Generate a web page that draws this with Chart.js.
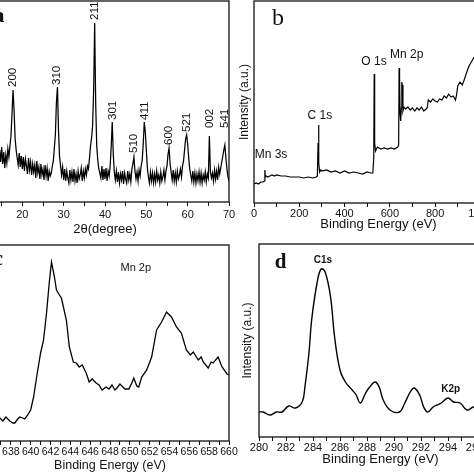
<!DOCTYPE html>
<html>
<head>
<meta charset="utf-8">
<script src="https://cdn.jsdelivr.net/npm/chart.js@4.4.1/dist/chart.umd.min.js"></script>
<style>
html, body { margin: 0; padding: 0; background: #fff; width: 474px; height: 474px; overflow: hidden; position: relative; }
canvas { position: absolute; }
</style>
</head>
<body>
<canvas id="chartA"></canvas>
<canvas id="chartB"></canvas>
<canvas id="chartC"></canvas>
<canvas id="chartD"></canvas>
<script>
// ---- (a) XRD pattern, 0.25 deg steps from 14 deg ----
var xrdStart = 14, xrdStep = 0.25;
var xrdCounts = [
  48, 36, 52, 40,  55, 38, 50, 34,  47, 39, 53, 45,  56, 66, 88, 112,
  92, 64, 52, 44,  37, 49, 35, 46,  33, 45, 31, 43,  36, 28, 44, 32,
  40, 27, 38, 30,  37, 24, 41, 29,  35, 23, 38, 27,  33, 22, 37, 26,
  34, 21, 31, 26,  29, 36, 41, 54,  68, 100, 115, 72,  46, 36, 27, 35,
  22, 33, 21, 31,  24, 19, 32, 22,  30, 20, 33, 21,  28, 19, 31, 23,
  27, 34, 21, 31,  24, 33, 27, 36,  33, 44, 56, 64,  76, 112, 179, 98,
  56, 42, 33, 29,  24, 36, 22, 33,  23, 34, 21, 31,  26, 36, 55, 80,
  48, 30, 22, 31,  20, 30, 19, 28,  22, 31, 18, 29,  23, 19, 31, 22,
  28, 20, 33, 38,  45, 31, 23, 30,  21, 32, 26, 36,  42, 58, 80, 70,
  52, 34, 25, 19,  30, 21, 29, 19,  28, 20, 31, 22,  27, 19, 30, 21,
  25, 32, 22, 31,  36, 48, 54, 38,  30, 22, 32, 21,  29, 20, 31, 23,
  27, 33, 25, 36,  41, 52, 63, 67,  58, 44, 33, 27,  21, 31, 20, 29,
  19, 28, 21, 30,  20, 29, 19, 27,  22, 30, 20, 28,  24, 66, 30, 24,
  29, 21, 32, 23,  31, 22, 35, 28,  34, 40, 46, 52,  57, 44, 33, 25,
  21
];
var xrdPeakNames = ['200', '310', '211', '301', '510', '411', '600', '521', '002', '541'];
var xrdPeakAngles = [17.8, 28.35, 37.55, 41.8, 46.9, 49.55, 55.35, 59.75, 65.3, 69.0];
var xrdLabelFoot = [115, 117, 182, 82, 49, 82, 57, 70, 74, 74];

// ---- (b) XPS survey ----
var surveyEnergy = [0, 10, 20, 30, 40, 46, 48, 50, 55, 60, 70, 80, 90, 100, 120, 140, 160, 180, 200,
  220, 240, 260, 275, 280, 283, 285, 287, 290, 295, 300, 320, 340, 360, 380, 400, 420, 440, 460, 480,
  500, 515, 525, 529, 531, 533, 537, 545, 560, 575, 590, 605, 620, 635, 639, 641, 643, 645, 648, 651,
  653, 655, 658, 662, 670, 680, 690, 700, 710, 720, 730, 740, 750, 760, 765, 770, 780, 790, 800, 810,
  820, 830, 840, 850, 860, 870, 880, 890, 895, 900, 910, 920, 930, 940, 950, 960, 970, 980, 990, 1000];
var surveyCounts = [19, 20, 19, 21, 21, 22, 33, 26, 27, 26, 27, 28, 27, 28, 27, 27, 26, 26, 26,
  25, 26, 25, 26, 27, 60, 78, 40, 31, 33, 32, 33, 31, 32, 30, 32, 30, 31, 30, 29,
  31, 30, 30, 45, 129, 60, 52, 56, 54, 55, 54, 55, 54, 56, 58, 135, 128, 90, 82, 95,
  121, 118, 92, 96, 94, 96, 93, 95, 92, 95, 93, 96, 92, 94, 95, 103, 101, 104, 102, 101,
  104, 103, 107, 105, 109, 106, 107, 103, 108, 117, 121, 118, 124, 131, 137, 141, 145, 148, 150, 152];
var surveyNames = ['Mn 3s', 'C 1s', 'O 1s', 'Mn 2p'];
var surveyNameX = [75, 291, 530, 675];
var surveyNameY = [48, 87, 141, 148];

// ---- (c) Mn 2p ----
var mnEnergy = [636.0, 636.3, 636.6, 636.9, 637.2, 637.5, 637.9, 638.2, 638.4, 638.7, 638.9, 639.2, 639.4,
  639.7, 640.0, 640.3, 640.6, 641.0, 641.3, 641.6, 641.9, 642.1, 642.4, 642.6, 642.9, 643.1, 643.6, 643.9,
  644.3, 644.6, 644.9, 645.2, 645.6, 645.9, 646.2, 646.6, 646.9, 647.2, 647.6, 647.9, 648.2, 648.5, 648.7,
  649.0, 649.2, 649.5, 649.9, 650.2, 650.4, 650.7, 650.9, 651.2, 651.7, 652.2, 652.7, 653.2, 653.7, 654.2,
  654.7, 655.2, 655.7, 656.1, 656.4, 656.9, 657.2, 657.4, 657.9, 658.2, 658.4, 658.9, 659.3, 659.8, 660.0];
var mnCounts = [22, 25, 21, 23, 20, 24, 20, 18, 18, 22, 24, 23, 22,
  26, 31, 44, 64, 88, 101, 128, 161, 179, 164, 151, 146, 143, 121, 94,
  79, 78, 74, 76, 68, 59, 62, 58, 56, 51, 54, 52, 56, 51, 53,
  57, 55, 52, 52, 58, 63, 55, 54, 64, 71, 84, 111, 119, 129, 124,
  114, 108, 91, 86, 89, 81, 84, 79, 73, 79, 78, 84, 74, 67, 66];

// ---- (d) C 1s ----
var cEnergy = [280.0, 280.3, 280.8, 281.3, 281.7, 282.2, 282.7, 283.2, 283.4, 283.7, 283.9, 284.3, 284.6,
  284.9, 285.3, 285.6, 286.0, 286.4, 286.9, 287.2, 287.5, 287.9, 288.2, 288.6, 288.9, 289.2, 289.7, 290.4,
  290.8, 291.2, 291.5, 291.9, 292.2, 292.5, 292.9, 293.2, 293.5, 294.0, 294.4, 294.9, 295.4, 295.9, 296.5, 297.2];
var cCounts = [25, 25, 22, 25, 25, 31, 29, 35, 50, 84, 117, 154, 168,
  165, 140, 100, 67, 55, 47, 42, 34, 44, 50, 55, 50, 37, 27, 25,
  34, 45, 49, 42, 30, 25, 30, 32, 34, 39, 35, 34, 27, 30, 28, 27];

Chart.defaults.font.family = 'Arial, "Liberation Sans", Helvetica, sans-serif';
Chart.defaults.color = '#111';
Chart.defaults.animation = false;

var M = 80;
var serif = '"Liberation Serif", "Times New Roman", serif';

// canvas is sized so that the plot area lands on the given page rectangle
function setupCanvas(id, area, xh, yw) {
  var cv = document.getElementById(id);
  var w = Math.round(area.r - area.l) + 2 * M;
  var h = Math.round(area.b - area.t) + 2 * M;
  cv.width = w; cv.height = h;
  cv.style.width = w + 'px'; cv.style.height = h + 'px';
  cv.style.left = Math.round(area.l - M) + 'px';
  cv.style.top = Math.round(area.t - M) + 'px';
  return { top: M, right: M, left: M - yw, bottom: M - xh };
}

function xAxis(min, max, step, every, tickSize, tickPad, title, titleSize, xh) {
  return {
    type: 'linear', min: min, max: max,
    afterFit: function (s) { s.height = xh; },
    border: { display: false },
    grid: { drawOnChartArea: false, drawTicks: true, tickLength: 4, color: '#111' },
    ticks: {
      stepSize: step, autoSkip: false, maxRotation: 0, padding: tickPad, color: '#111',
      font: { size: tickSize },
      callback: function (v) { return Math.abs(v % every) < 1e-6 ? String(v) : ''; }
    },
    title: { display: true, text: title, font: { size: titleSize, lineHeight: 1.2 }, padding: 0, color: '#111' }
  };
}

function yAxis(max, yw, title) {
  return {
    type: 'linear', min: 0, max: max, display: yw > 0,
    afterFit: function (s) { s.width = yw; },
    grid: { display: false }, border: { display: false }, ticks: { display: false },
    title: { display: !!title, text: title || '', font: { size: 12, lineHeight: 1.2 }, padding: 0, color: '#111' }
  };
}

var framePlugin = {
  id: 'frame',
  afterDatasetsDraw: function (chart) {
    var a = chart.chartArea, ctx = chart.ctx;
    ctx.save();
    ctx.strokeStyle = '#111';
    ctx.lineWidth = 1.3;
    ctx.strokeRect(a.left, a.top, a.right - a.left, a.bottom - a.top);
    ctx.restore();
  }
};

function notesPlugin(items) {
  return {
    id: 'notes',
    afterDatasetsDraw: function (chart) {
      var ctx = chart.ctx, sx = chart.scales.x, sy = chart.scales.y;
      items.forEach(function (n) {
        ctx.save();
        ctx.translate(sx.getPixelForValue(n.x), sy.getPixelForValue(n.y));
        if (n.rot) ctx.rotate(n.rot);
        ctx.font = n.font;
        ctx.fillStyle = '#111';
        ctx.textAlign = n.align || 'center';
        ctx.textBaseline = n.base || 'middle';
        ctx.fillText(n.text, 0, 0);
        ctx.restore();
      });
    }
  };
}

function toPoints(xs, ys) {
  return ys.map(function (y, i) { return { x: xs[i], y: y }; });
}

function makeChart(id, pad, points, width, tension, scales, notes) {
  return new Chart(document.getElementById(id), {
    type: 'line',
    data: { datasets: [{ data: points, borderColor: '#000', borderWidth: width, pointRadius: 0, tension: tension }] },
    options: {
      responsive: false, animation: false,
      layout: { padding: pad },
      plugins: { legend: { display: false }, tooltip: { enabled: false } },
      scales: scales
    },
    plugins: [framePlugin, notesPlugin(notes)]
  });
}

// (a)
var xrdAngles = xrdCounts.map(function (c, i) { return xrdStart + i * xrdStep; });
var notesA = xrdPeakNames.map(function (t, i) {
  return { text: t, x: xrdPeakAngles[i], y: xrdLabelFoot[i], font: '11.5px Arial, "Liberation Sans"', align: 'left', base: 'middle', rot: -Math.PI / 2 };
});
notesA.push({ text: 'a', x: 15.7, y: 180, font: 'bold 22px ' + serif, align: 'right', base: 'alphabetic' });
var padA = setupCanvas('chartA', { l: -19, r: 229.3, t: 1, b: 202 }, 35, 0);
makeChart('chartA', padA, toPoints(xrdAngles, xrdCounts), 1.25, 0, {
  x: xAxis(10, 70, 5, 10, 11, 2, '2\u03b8(degree)', 13, 35),
  y: yAxis(201, 0)
}, notesA);

// (b)
var notesB = surveyNames.map(function (t, i) {
  return { text: t, x: surveyNameX[i], y: surveyNameY[i], font: '12px Arial, "Liberation Sans"' };
});
notesB.push({ text: 'b', x: 106, y: 178, font: '24px ' + serif, align: 'center', base: 'alphabetic' });
var padB = setupCanvas('chartB', { l: 254, r: 503, t: 1, b: 203 }, 29, 17);
makeChart('chartB', padB, toPoints(surveyEnergy, surveyCounts), 1.2, 0, {
  x: xAxis(0, 1100, 100, 200, 11, 0, 'Binding Energy (eV)', 13, 29),
  y: yAxis(202, 17, 'Intensity (a.u.)')
}, notesB);

// (c)
var notesC = [
  { text: 'Mn 2p', x: 650.6, y: 173, font: '11px Arial, "Liberation Sans"' },
  { text: 'c', x: 637.2, y: 176, font: 'bold 22px ' + serif, align: 'right', base: 'alphabetic' }
];
var padC = setupCanvas('chartC', { l: -9, r: 229, t: 245, b: 441 }, 32, 0);
makeChart('chartC', padC, toPoints(mnEnergy, mnCounts), 1.3, 0, {
  x: xAxis(636, 660, 1, 2, 10.5, 1, 'Binding Energy (eV)', 12.5, 32),
  y: yAxis(196, 0)
}, notesC);

// (d)
var notesD = [
  { text: 'C1s', x: 284.74, y: 177, font: 'bold 10px Arial, "Liberation Sans"' },
  { text: 'K2p', x: 294.2, y: 48, font: 'bold 10px Arial, "Liberation Sans"' },
  { text: 'd', x: 281.6, y: 169, font: 'bold 21px ' + serif, align: 'center', base: 'alphabetic' }
];
var padD = setupCanvas('chartD', { l: 259, r: 502, t: 244, b: 437 }, 30, 19);
makeChart('chartD', padD, toPoints(cEnergy, cCounts), 1.4, 0.4, {
  x: xAxis(280, 298, 1, 2, 11, 0, 'Binding Energy (eV)', 13, 30),
  y: yAxis(193, 19, 'Intensity (a.u.)')
}, notesD);
</script>
</body>
</html>
